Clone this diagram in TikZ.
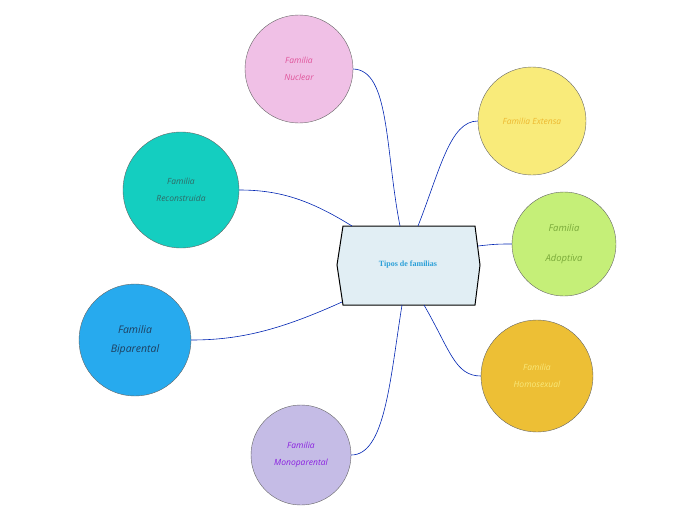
\documentclass[tikz,border=0pt]{standalone}
\usepackage{fontspec}
\setmainfont{Liberation Serif}
\newfontfamily\hand{Open Sans}
\begin{document}
\begin{tikzpicture}[x=1pt,y=-1pt,
 bub/.style={circle,draw=gray!80!black,line width=0.4pt,minimum size=#1,inner sep=0pt,align=center,font=\hand\itshape\fontsize{8.5}{17}\selectfont},
 conn/.style={draw=blue!80!cyan!70!black,line width=0.6pt}]
\useasboundingbox (0,0) rectangle (696,520);
\definecolor{cfill}{HTML}{E1EEF4}
\draw[fill=cfill,line width=1pt] (343,226)--(475,226)--(480,265)--(475,305)--(343,305)--(337,265)--cycle;
\node[font=\bfseries\fontsize{8}{10}\selectfont,text={rgb,255:red,42;green,159;blue,216}] (c) at (408,265) {Tipos de familias};
\coordinate (cn1) at (400,226); \coordinate (cn2) at (418,226); \coordinate (cnl) at (352,226);
\coordinate (ce) at (478,246); \coordinate (cs1) at (424,305); \coordinate (cs2) at (402,305); \coordinate (csw) at (342,302);
\node[bub=108pt,fill={rgb,255:red,240;green,192;blue,230},text={rgb,255:red,224;green,85;blue,155}] (n) at (299,69) {Familia\\Nuclear};
\node[bub=116pt,fill={rgb,255:red,20;green,206;blue,192},text={rgb,255:red,47;green,106;blue,102}] (r) at (181,190) {Familia\\Reconstruida};
\node[bub=112pt,fill={rgb,255:red,39;green,170;blue,238},text={rgb,255:red,31;green,63;blue,95},font=\hand\itshape\fontsize{10.5}{19}\selectfont] (b) at (135,340) {Familia\\Biparental};
\node[bub=100pt,fill={rgb,255:red,197;green,188;blue,230},text={rgb,255:red,138;green,32;blue,224}] (m) at (301,455) {Familia\\Monoparental};
\node[bub=108pt,fill={rgb,255:red,249;green,235;blue,122},text={rgb,255:red,237;green,184;blue,48}] (e) at (532,121) {Familia Extensa};
\node[bub=104pt,fill={rgb,255:red,197;green,239;blue,120},text={rgb,255:red,122;green,170;blue,58},font=\hand\itshape\fontsize{9.5}{30}\selectfont] (a) at (564,244) {Familia\\Adoptiva};
\node[bub=112pt,fill={rgb,255:red,237;green,191;blue,53},text={rgb,255:red,249;green,232;blue,122}] (h) at (537,376) {Familia\\Homosexual};
\draw[conn] (cn1) .. controls (385,150) and (390,70) .. (n.east);
\draw[conn] (cnl) .. controls (310,200) and (280,190) .. (r.east);
\draw[conn] (csw) .. controls (280,330) and (240,340) .. (b.east);
\draw[conn] (cs2) .. controls (390,380) and (385,455) .. (m.east);
\draw[conn] (cn2) .. controls (440,170) and (450,121) .. (e.west);
\draw[conn] (ce) .. controls (495,244) and (500,244) .. (a.west);
\draw[conn] (cs1) .. controls (450,350) and (455,376) .. (h.west);
\end{tikzpicture}
\end{document}
